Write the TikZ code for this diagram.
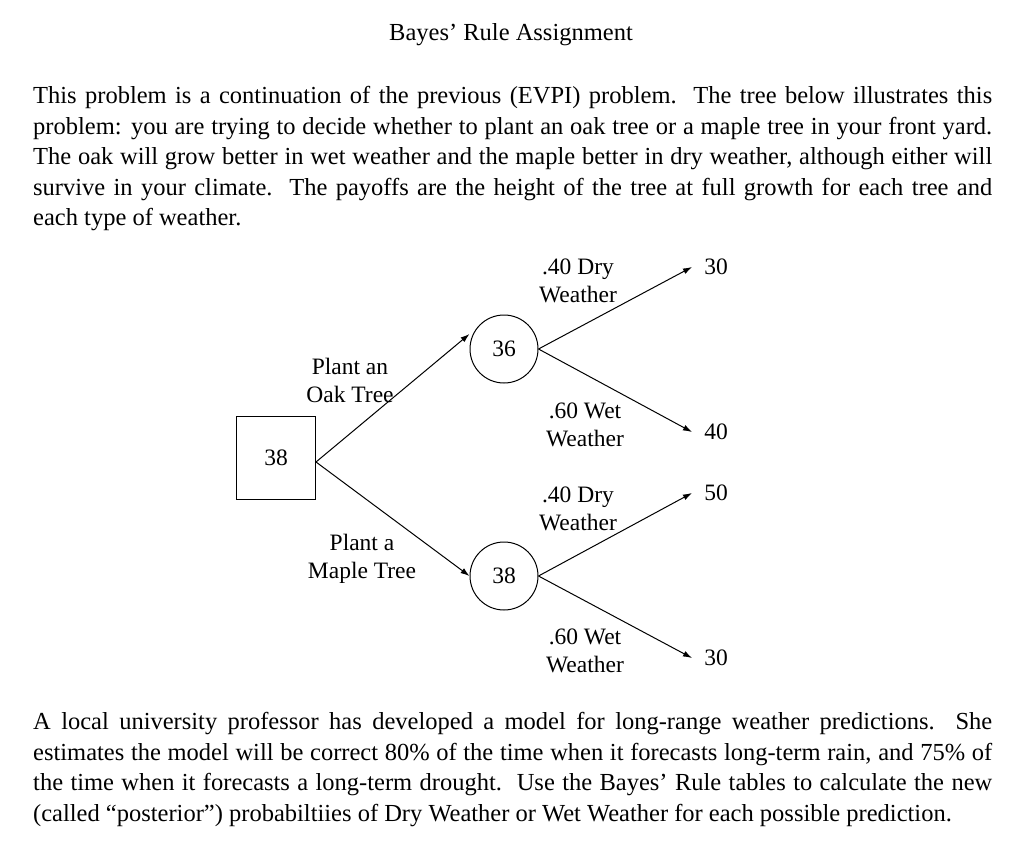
\documentclass[tikz,border=0pt]{standalone}
\usepackage{fontspec}
\setmainfont{Liberation Serif}
\usetikzlibrary{arrows.meta}
\begin{document}
\begin{tikzpicture}[x=1pt,y=-1pt,
  para/.style={anchor=north west,text width=959pt,align=justify,inner sep=0pt,font=\fontsize{24.5}{30.6}\selectfont},
  lbl/.style={font=\fontsize{23.5}{28}\selectfont,align=center,inner sep=0pt},
  chance/.style={draw,circle,minimum size=68pt,inner sep=0pt,font=\fontsize{23.5}{28}\selectfont},
  arr/.style={-{Latex[length=9pt,width=6pt]},line width=1pt}]
\useasboundingbox (0,0) rectangle (1024,850);
\node[font=\fontsize{24.5}{28}\selectfont] (title) at (511,35) {Bayes’ Rule Assignment};
\node[para] (p1) at (33,86) {This problem is a continuation of the previous (EVPI) problem.\ \ The tree below illustrates this\linebreak problem: you are trying to decide whether to plant an oak tree or a maple tree in your front yard.\linebreak The oak will grow better in wet weather and the maple better in dry weather, although either will\linebreak survive in your climate.\ \ The payoffs are the height of the tree at full growth for each tree and\linebreak each type of weather.};
\node[draw,minimum width=79pt,minimum height=83pt,line width=1pt,font=\fontsize{23.5}{28}\selectfont] (d) at (276,458) {38};
\node[chance,line width=1pt] (c1) at (504,349) {36};
\node[chance,line width=1pt] (c2) at (504,576) {38};
\coordinate (s) at (316,462);
\node[lbl] (t1) at (716,267) {30};
\node[lbl] (t2) at (716,432) {40};
\node[lbl] (t3) at (716,493) {50};
\node[lbl] (t4) at (716,658) {30};
\coordinate (e1) at (692,267);
\coordinate (e2) at (692,432);
\coordinate (e3) at (692,493);
\coordinate (e4) at (692,658);
\draw[arr] (s) -- (c1.west |- 0,334) ;
\draw[arr] (s) -- (c2.west |- 0,576);
\draw[arr] (c1.east) -- (e1);
\draw[arr] (c1.east) -- (e2);
\draw[arr] (c2.east) -- (e3);
\draw[arr] (c2.east) -- (e4);
\node[lbl] (l1) at (350,380) {Plant an\\Oak Tree};
\node[lbl] (l2) at (362,559) {Plant a\\Maple Tree};
\node[lbl] (l3) at (578,281) {.40 Dry\\Weather};
\node[lbl] (l4) at (585,425) {.60 Wet\\Weather};
\node[lbl] (l5) at (578,509) {.40 Dry\\Weather};
\node[lbl] (l6) at (585,651) {.60 Wet\\Weather};
\node[para] (p2) at (33,712) {A local university professor has developed a model for long-range weather predictions.\ \ She\linebreak estimates the model will be correct 80\% of the time when it forecasts long-term rain, and 75\% of\linebreak the time when it forecasts a long-term drought.\ \ Use the Bayes’ Rule tables to calculate the new\linebreak (called “posterior”) probabiltiies of Dry Weather or Wet Weather for each possible prediction.};
\end{tikzpicture}
\end{document}
